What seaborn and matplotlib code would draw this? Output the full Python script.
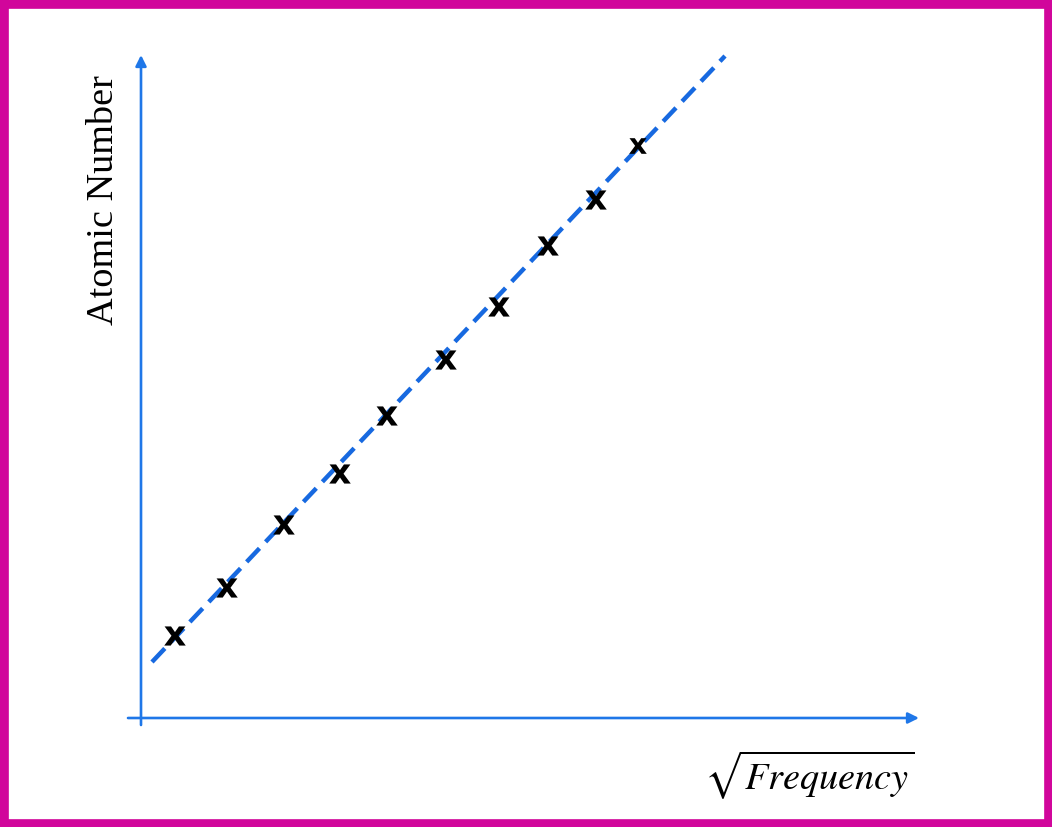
import matplotlib
matplotlib.use("Agg")
import matplotlib.pyplot as plt
from matplotlib.patches import Rectangle
import pandas as pd
import seaborn as sns

# measured points (arbitrary units from the axes origin)
freq_root = [3.4, 8.6, 14.3, 19.9, 24.6, 30.5, 35.8, 40.7, 45.5, 49.7]
atomic_num = [8.2, 13.0, 19.3, 24.4, 30.2, 35.8, 41.1, 47.2, 51.8, 57.2]
mark_size = [240, 240, 240, 240, 240, 240, 240, 240, 240, 160]

# best-fit line end points
fit_x = [1.1, 58.4]
fit_y = [5.6, 66.2]

AXIS_BLUE = '#1f77e8'
LINE_BLUE = '#1769e0'
BORDER = '#d1069b'

sns.set_theme(style="white")
plt.rcParams['mathtext.fontset'] = 'dejavusans'

fig = plt.figure(figsize=(10.52, 8.27), dpi=100)
ax = fig.add_axes([0, 0, 1, 1])
ax.set_xlim(-14.1, 91.1)
ax.set_ylim(-10.9, 71.8)
ax.axis('off')

pts = pd.DataFrame({'x': freq_root, 'y': atomic_num, 's': mark_size})
fit = pd.DataFrame({'x': fit_x, 'y': fit_y})

sns.lineplot(ax=ax, data=fit, x='x', y='y', color=LINE_BLUE, linewidth=3.2,
             dashes=[(4.2, 2)], style=[0, 0], legend=False)
sns.scatterplot(ax=ax, data=pts, x='x', y='y', size='s', sizes=(160, 240),
                marker=r'$\mathbf{x}$', color='black', edgecolor='none',
                legend=False, zorder=5)

# axes with arrow heads
ax.annotate('', xy=(0, 66.3), xytext=(0, -0.7),
            arrowprops=dict(arrowstyle='-|>', color=AXIS_BLUE, lw=1.9,
                            mutation_scale=16, shrinkA=0, shrinkB=0))
ax.annotate('', xy=(77.8, 0), xytext=(-1.3, 0),
            arrowprops=dict(arrowstyle='-|>', color=AXIS_BLUE, lw=1.9,
                            mutation_scale=16, shrinkA=0, shrinkB=0))

ax.text(-3.7, 51.8, 'Atomic Number', rotation=90, ha='center', va='center',
        fontsize=27.5, family=['Liberation Serif', 'DejaVu Serif'], color='black')
ax.text(66.8, -5.7, r'$\sqrt{Frequency}$', ha='center', va='center',
        fontsize=27.5, color='black', math_fontfamily='stix')

fig.patches.append(Rectangle((0, 0), 1, 1, transform=fig.transFigure,
                             fill=False, edgecolor=BORDER, linewidth=12))

fig.savefig('out.png', dpi=100, facecolor='white')
